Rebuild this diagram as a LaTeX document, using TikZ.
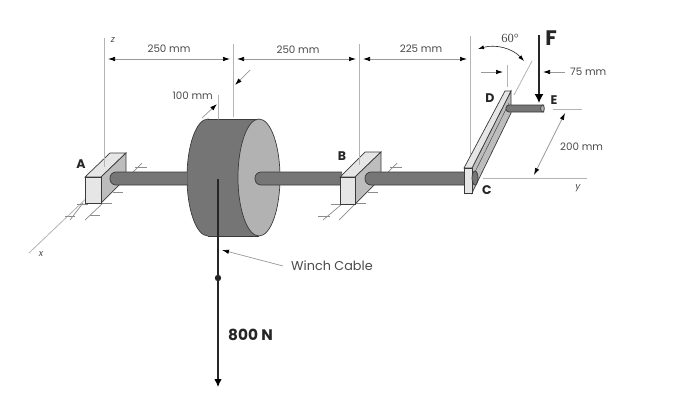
\documentclass[tikz,border=0pt]{standalone}
\usepackage{fontspec}
\setmainfont{Poppins}
\newfontfamily\serifnum{Liberation Serif}
\usetikzlibrary{arrows.meta}
\definecolor{shaftgray}{HTML}{767676}
\definecolor{drumdark}{HTML}{757575}
\definecolor{drumface}{HTML}{B2B2B2}
\definecolor{blockfront}{HTML}{E6E6E6}
\definecolor{blockside}{HTML}{BDBDBD}
\definecolor{edge}{HTML}{3A3A3A}
\definecolor{guide}{HTML}{B4B4B4}
\definecolor{labelgray}{HTML}{4A4A4A}
\tikzset{
  guide/.style={draw=guide,line width=0.8pt},
  hatch/.style={draw=gray!90,line width=0.7pt},
  dim/.style={draw=gray!80,line width=0.7pt,-{Latex[length=7pt,width=4.5pt,black]}},
  dimboth/.style={draw=gray!80,line width=0.7pt,{Latex[length=7pt,width=4.5pt,black]}-{Latex[length=7pt,width=4.5pt,black]}},
  part/.style={draw=edge,line width=0.7pt},
  dimtext/.style={text=labelgray,font=\fontsize{10.3}{12}\selectfont,inner sep=0pt},
  letter/.style={text=black!85,font=\fontsize{12.5}{14}\selectfont\bfseries,inner sep=0pt},
  axis/.style={text=labelgray,font=\fontsize{9}{10}\selectfont\itshape,inner sep=0pt}
}
\begin{document}
\begin{tikzpicture}[x=1pt,y=-1pt]
\useasboundingbox[fill=white] (0,0) rectangle (700,407);

% hatches block A
\draw[guide] (29,253) -- (93,192);
\foreach \a/\b/\c/\d in {65/216/75/216,77/204/88/204,70/220/83/203,85/220/102/204,90/215/100/215,102/203/112/203,113/192/123/192,133/172/142/163,135/167/147/167}
  \draw[hatch] (\a,\b) -- (\c,\d);
% hatches block B
\foreach \a/\b/\c/\d in {318/216/330/216,331/204/343/204,323/220/342/204,339/220/355/204,355/203/366/203,368/192/378/192,388/172/397/163,390/167/402/167}
  \draw[hatch] (\a,\b) -- (\c,\d);

% drum
\draw[part,fill=drumdark] (208,177.5) ellipse[x radius=21,y radius=58.5];
\fill[drumdark] (208,119) rectangle (259,236);
\draw[part] (208,119) -- (259,119);
\draw[part] (208,236) -- (259,236);
\draw[part,fill=drumface] (259,177.5) ellipse[x radius=21,y radius=58.5];
\draw[part,fill=shaftgray,rounded corners=6pt] (342,172) -- (255,172) -- (255,185) -- (342,185);

% bearing A
\draw[part,fill=blockfront] (85,177) -- (110,153) -- (126,153) -- (101,177) -- cycle;
\draw[part,fill=blockside] (101,177) -- (126,153) -- (126,178) -- (101,203) -- cycle;
\draw[part,fill=blockfront] (85,177) rectangle (101,203);
\draw[part,fill=shaftgray,rounded corners=6pt] (187,172) -- (110,172) -- (110,185) -- (187,185);

% bearing B
\draw[part,fill=blockfront] (340,177) -- (365,152) -- (381,152) -- (355,177) -- cycle;
\draw[part,fill=blockside] (355,177) -- (381,152) -- (381,178) -- (355,204) -- cycle;
\draw[part,fill=blockfront] (340,177) rectangle (355,204);

% shaft B to C
\draw[part,fill=shaftgray,rounded corners=6pt] (466,172) -- (365,172) -- (365,185) -- (466,185);

% crank plate
\draw[part,fill=blockside] (472,168) -- (511,91) -- (511,113) -- (472,193) -- cycle;
\draw[draw=edge,line width=0.4pt] (475,172) -- (509,103);
\draw[part,fill=blockfront] (464,168) -- (505,91) -- (511,91) -- (472,168) -- cycle;
\draw[part,fill=blockfront] (464,168) rectangle (472,193);
\draw[part,fill=shaftgray] (475,178) ellipse[x radius=3,y radius=7];

% handle
\draw[part,fill=shaftgray,rounded corners=3pt] (544,105) -- (506,105) -- (506,112) -- (544,112);
\draw[part,fill=drumface] (542.5,108.5) ellipse[x radius=1.8,y radius=3.5];

% guide lines
\draw[guide] (104,38) -- (104,167);
\draw[guide] (233,44) -- (233,117);
\draw[guide] (359,44) -- (359,165);
\draw[guide] (470,36) -- (470,155);
\draw[guide] (514,95) -- (532,61);
\draw[guide] (507,65) -- (507,87);
\draw[guide] (553,109) -- (582,109);
\draw[guide] (483,178) -- (587,178);
\draw[guide] (218,95) -- (218,119);
\draw[draw=black!55,line width=0.8pt] (218,119) -- (218,170);

% dimensions
\coordinate (d1a) at (108,59); \coordinate (d1b) at (230,59);
\coordinate (d2a) at (237,59); \coordinate (d2b) at (356,59);
\coordinate (d3a) at (363,59); \coordinate (d3b) at (467,59);
\draw[dimboth] (d1a) -- (d1b);
\draw[dimboth] (d2a) -- (d2b);
\draw[dimboth] (d3a) -- (d3b);
\coordinate (h1) at (202,118); \coordinate (h2) at (217,104);
\coordinate (h3) at (250,70); \coordinate (h4) at (235,85);
\draw[dim] (h1) -- (h2);
\draw[dim] (h3) -- (h4);
\coordinate (m1) at (481,72); \coordinate (m2) at (503,72);
\draw[dim] (m1) -- (m2);
\coordinate (s1) at (565,72); \coordinate (s2) at (543,72);
\draw[dim] (s1) -- (s2);
\coordinate (t1) at (565,113); \coordinate (t2) at (534,175);
\draw[dimboth] (t1) -- (t2);
\coordinate (an1) at (478,49); \coordinate (an2) at (524,61);
\draw[draw=gray!30!black,line width=0.6pt,{Latex[length=6pt,width=4pt,black]}-{Latex[length=6pt,width=4pt,black]}] (an1) .. controls (495,44) and (512,48) .. (an2);

% cable and force
\coordinate (cabletop) at (218,179); \coordinate (cableend) at (218,387);
\draw[draw=black!85,line width=1.1pt,-{Latex[length=8pt,width=7.5pt,black]}] (cabletop) -- (cableend);
\fill[black!85] (218,278) circle[radius=3.2];
\coordinate (ftop) at (539,35); \coordinate (ftip) at (539,103);
\draw[draw=black!85,line width=1.3pt,-{Latex[length=9pt,width=9pt,black]}] (ftop) -- (ftip);
\coordinate (wa) at (283,266); \coordinate (wb) at (222,250);
\draw[dim] (wa) -- (wb);

% labels
\node[axis] (lz) at (113,40) {z};
\node[axis] (lx) at (41,254) {x};
\node[axis] (ly) at (578,188) {y};
\node[dimtext] (l1) at (169,49) {250 mm};
\node[dimtext] (l2) at (298,50) {250 mm};
\node[dimtext] (l3) at (421,49) {225 mm};
\node[dimtext,anchor=east] (l4) at (213,96) {100 mm};
\node[dimtext,anchor=west] (l5) at (570,72) {75 mm};
\node[dimtext,anchor=west] (l6) at (560,147) {200 mm};
\node[text=labelgray,font=\fontsize{12.8}{14}\selectfont,anchor=west,inner sep=0pt] (l7) at (291,266) {Winch Cable};
\node[text=black!85,font=\fontsize{15.3}{18}\selectfont\bfseries,anchor=west,inner sep=0pt] (l8) at (228,335) {800 N};
\node[text=labelgray,font=\fontsize{12.5}{14}\selectfont\serifnum,inner sep=0pt] (l9) at (510,38) {60°};
\node[text=black!85,font=\fontsize{21}{24}\selectfont\bfseries,inner sep=0pt] (lF) at (551,38) {F};
\node[letter] (lA) at (81,164) {A};
\node[letter] (lB) at (342,156) {B};
\node[letter] (lC) at (487,190) {C};
\node[letter] (lD) at (490,98) {D};
\node[letter] (lE) at (554,100) {E};
\end{tikzpicture}
\end{document}
